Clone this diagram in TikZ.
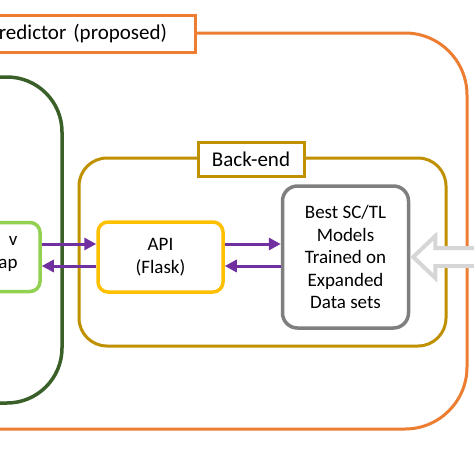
\documentclass[tikz,border=0pt]{standalone}
\usepackage{fontspec}
\setmainfont{Carlito}
\usepackage{tikz}
\usetikzlibrary{arrows.meta,positioning}
\definecolor{ppdorange}{HTML}{ED7D31}
\definecolor{ppddkgreen}{HTML}{3A5F28}
\definecolor{ppdltgreen}{HTML}{92D050}
\definecolor{ppdgold}{HTML}{BF9000}
\definecolor{ppdyellow}{HTML}{FFC000}
\definecolor{ppdgray}{HTML}{7F7F7F}
\definecolor{ppdpurple}{HTML}{7030A0}
\definecolor{ppdlgray}{HTML}{D6D6D6}
\tikzset{
  panel/.style={draw,line width=3pt,rounded corners=#1,inner sep=0pt},
  tag/.style={draw,fill=white,line width=3pt,inner sep=0pt,font=\fontsize{21}{25}\selectfont},
  box/.style={draw,fill=white,line width=3.5pt,rounded corners=10pt,align=center,inner sep=0pt,font=\fontsize{19}{22.5}\selectfont},
  ar/.style={-{Triangle[length=12pt,width=12pt]},draw=ppdpurple,line width=3pt},
  hollow/.style={draw=ppdlgray,fill=white,line width=4pt,line join=miter},
}

\begin{document}
\begin{tikzpicture}[x=1pt,y=-1pt]
  \useasboundingbox (0,0) rectangle (474,474);
  \clip (0,0) rectangle (474,474);
  % outer frame and its title
  \node[panel=62pt,draw=ppdorange,minimum width=617pt,minimum height=396pt] (predictor) at (158.5,231) {};
  \node[tag,draw=ppdorange,minimum width=255pt,minimum height=37pt,text width=199pt,inner xsep=28pt,align=right] (title) at (67.5,33.5) {redictor (proposed)};
  % front-end (cut at the left border)
  \node[panel=55pt,draw=ppddkgreen,line width=3.5pt,minimum width=262pt,minimum height=326pt] (frontend) at (-69,240) {};
  \node[box,draw=ppdltgreen,minimum width=120pt,minimum height=69pt] (front) at (-20,257) {};
  \node[anchor=east,align=right,inner sep=0pt,font=\fontsize{19}{22.5}\selectfont] (frontlbl) at ([xshift=-24pt,yshift=3pt]front.east) {v\\ap};
  % back-end
  \node[panel=28pt,draw=ppdgold,minimum width=367pt,minimum height=188pt] (backend) at (262.5,252) {};
  \node[tag,draw=ppdgold,minimum width=106pt,minimum height=34pt] (bktag) at (251,159) {Back-end};
  \node[box,draw=ppdyellow,minimum width=125pt,minimum height=70pt] (api) at (160.5,257) {API\\(Flask)};
  \node[box,draw=ppdgray,rounded corners=15pt,minimum width=126pt,minimum height=142pt,right=56pt of api] (models) {Best SC/TL\\Models\\Trained on\\Expanded\\Data sets};
  \draw[ar] ([yshift=13pt]front.east) -- ([yshift=13pt]api.west);
  \draw[ar] ([yshift=-9pt]api.west) -- ([yshift=-9pt]front.east);
  \draw[ar] ([yshift=13pt]api.east) -- ([yshift=13pt]models.west);
  \draw[ar] ([yshift=-9pt]models.west) -- ([yshift=-9pt]api.east);
  \draw[hollow] ([xshift=3pt]models.east) -- ++(22,-21) -- ++(0,12) -- ++(90,0) -- ++(0,18) -- ++(-90,0) -- ++(0,12) -- cycle;
\end{tikzpicture}
\end{document}
